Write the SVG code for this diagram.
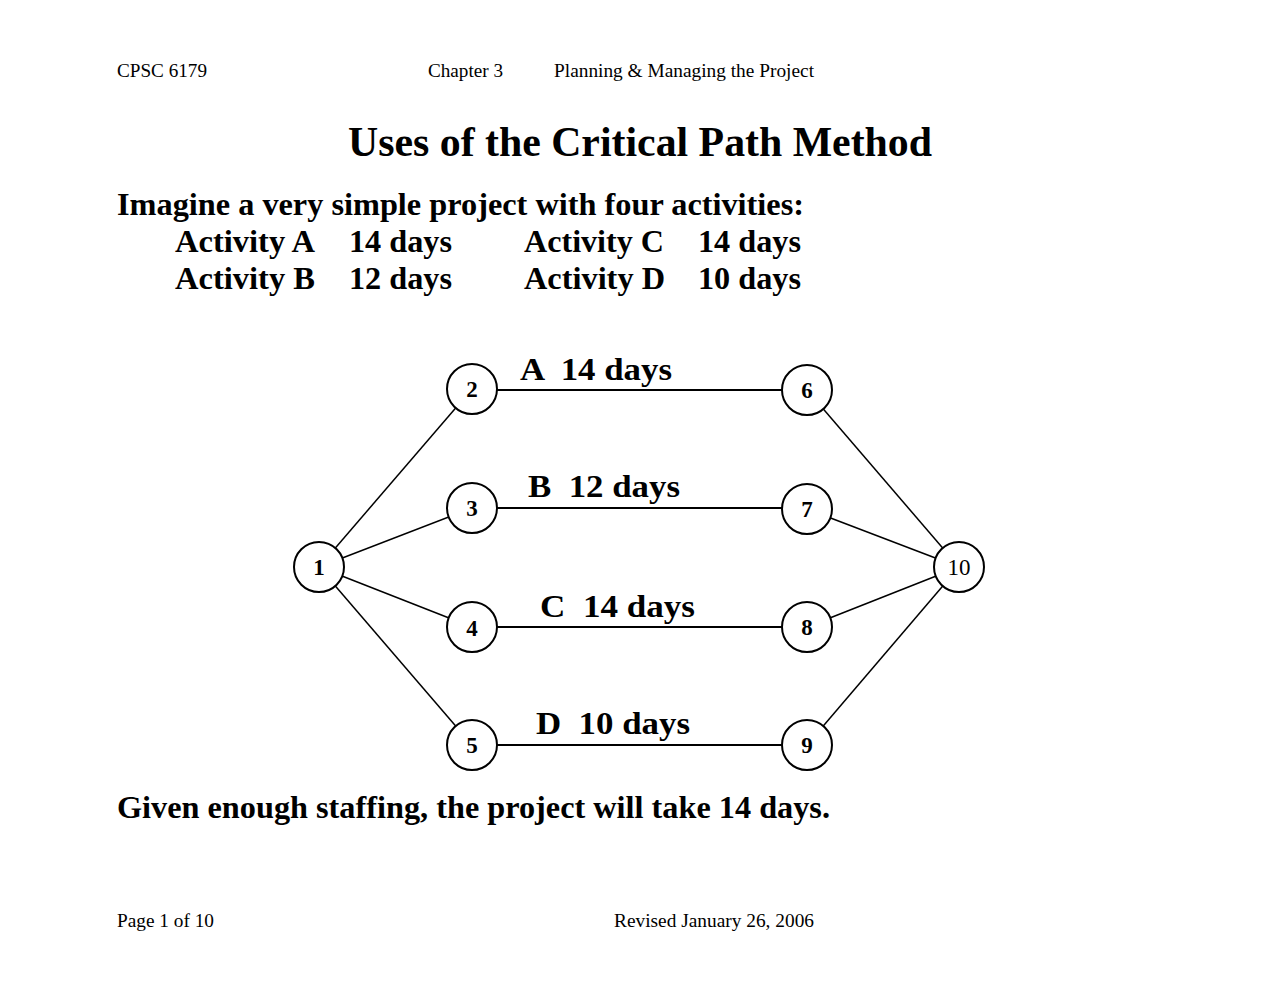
<svg xmlns="http://www.w3.org/2000/svg" width="1280" height="989" viewBox="0 0 1280 989">
<style>
text{font-family:"Liberation Serif","Times New Roman",serif;fill:#000}
.hdr{font-size:19px}
.title{font-size:42px;font-weight:bold}
.body{font-size:32.5px;font-weight:bold}
.lbl{font-size:32px;font-weight:bold;white-space:pre}
.num{font-size:23px;font-weight:bold;text-anchor:middle}
.node circle{fill:#fff;stroke:#000;stroke-width:2}
.edges line{stroke:#000;stroke-width:1.5}
.edges line.h{stroke-width:2}
</style>
<rect width="1280" height="989" fill="#fff"/>
<text class="hdr" x="117" y="77" textLength="90" lengthAdjust="spacingAndGlyphs">CPSC 6179</text>
<text class="hdr" x="428" y="77" textLength="75" lengthAdjust="spacingAndGlyphs">Chapter 3</text>
<text class="hdr" x="554" y="77" textLength="260" lengthAdjust="spacingAndGlyphs">Planning &amp; Managing the Project</text>
<text class="title" x="348" y="156" textLength="584" lengthAdjust="spacingAndGlyphs">Uses of the Critical Path Method</text>
<text class="body" x="117" y="215" textLength="687" lengthAdjust="spacingAndGlyphs">Imagine a very simple project with four activities:</text>
<text class="body" x="175" y="252" textLength="140" lengthAdjust="spacingAndGlyphs">Activity A</text>
<text class="body" x="349" y="252" textLength="103" lengthAdjust="spacingAndGlyphs">14 days</text>
<text class="body" x="524" y="252" textLength="140" lengthAdjust="spacingAndGlyphs">Activity C</text>
<text class="body" x="698" y="252" textLength="103" lengthAdjust="spacingAndGlyphs">14 days</text>
<text class="body" x="175" y="289" textLength="140" lengthAdjust="spacingAndGlyphs">Activity B</text>
<text class="body" x="349" y="289" textLength="103" lengthAdjust="spacingAndGlyphs">12 days</text>
<text class="body" x="524" y="289" textLength="141" lengthAdjust="spacingAndGlyphs">Activity D</text>
<text class="body" x="698" y="289" textLength="103" lengthAdjust="spacingAndGlyphs">10 days</text>
<g class="edges">
<line x1="319" y1="567" x2="472" y2="389"/>
<line x1="319" y1="567" x2="472" y2="508"/>
<line x1="319" y1="567" x2="472" y2="627"/>
<line x1="319" y1="567" x2="472" y2="745"/>
<line class="h" x1="472" y1="390" x2="807" y2="390"/>
<line class="h" x1="472" y1="508" x2="807" y2="508"/>
<line class="h" x1="472" y1="627" x2="807" y2="627"/>
<line class="h" x1="472" y1="745" x2="807" y2="745"/>
<line x1="807" y1="390" x2="959" y2="567"/>
<line x1="807" y1="509" x2="959" y2="567"/>
<line x1="807" y1="627" x2="959" y2="567"/>
<line x1="807" y1="745" x2="959" y2="567"/>
</g>
<text class="lbl" x="520" y="380" textLength="152" lengthAdjust="spacingAndGlyphs">A  14 days</text>
<text class="lbl" x="528" y="497" textLength="152" lengthAdjust="spacingAndGlyphs">B  12 days</text>
<text class="lbl" x="540" y="617" textLength="155" lengthAdjust="spacingAndGlyphs">C  14 days</text>
<text class="lbl" x="536" y="734" textLength="154" lengthAdjust="spacingAndGlyphs">D  10 days</text>
<g class="node" id="n1"><circle cx="319" cy="567" r="25"/><text class="num" x="319" y="575">1</text></g>
<g class="node" id="n2"><circle cx="472" cy="389" r="25"/><text class="num" x="472" y="397">2</text></g>
<g class="node" id="n3"><circle cx="472" cy="508" r="25"/><text class="num" x="472" y="516">3</text></g>
<g class="node" id="n4"><circle cx="472" cy="627" r="25"/><text class="num" x="472" y="636">4</text></g>
<g class="node" id="n5"><circle cx="472" cy="745" r="25"/><text class="num" x="472" y="753">5</text></g>
<g class="node" id="n6"><circle cx="807" cy="390" r="25"/><text class="num" x="807" y="398">6</text></g>
<g class="node" id="n7"><circle cx="807" cy="509" r="25"/><text class="num" x="807" y="517">7</text></g>
<g class="node" id="n8"><circle cx="807" cy="627" r="25"/><text class="num" x="807" y="635">8</text></g>
<g class="node" id="n9"><circle cx="807" cy="745" r="25"/><text class="num" x="807" y="753">9</text></g>
<g class="node" id="n10"><circle cx="959" cy="567" r="25"/><text class="num" x="959" y="575" style="font-weight:normal">10</text></g>
<text class="body" x="117" y="818" textLength="713" lengthAdjust="spacingAndGlyphs">Given enough staffing, the project will take 14 days.</text>
<text class="hdr" x="117" y="927" textLength="97" lengthAdjust="spacingAndGlyphs">Page 1 of 10</text>
<text class="hdr" x="614" y="927" textLength="200" lengthAdjust="spacingAndGlyphs">Revised January 26, 2006</text>
</svg>
